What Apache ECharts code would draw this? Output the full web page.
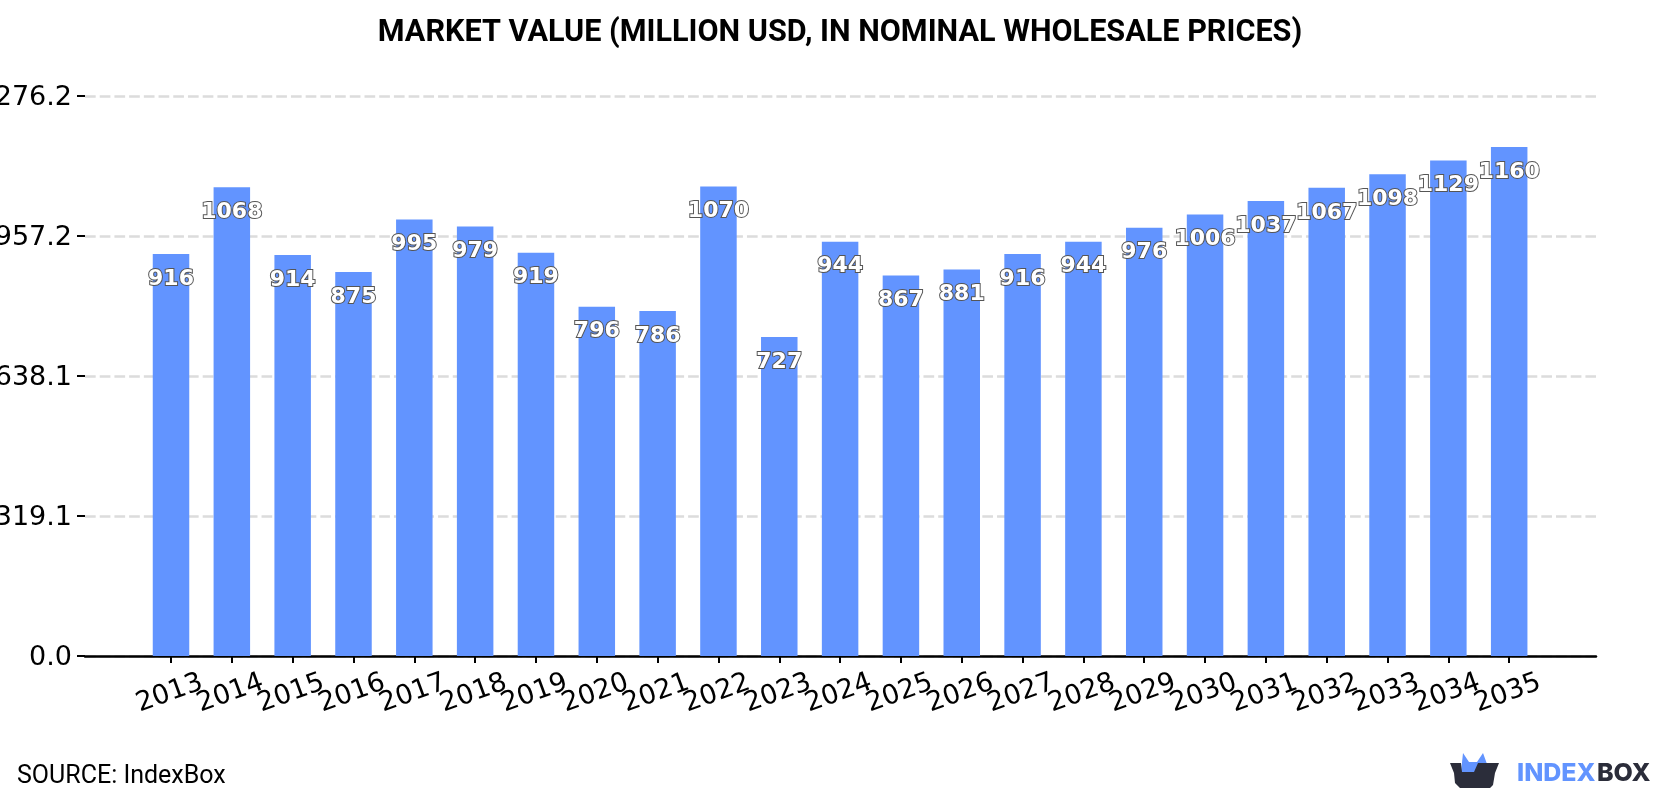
<!DOCTYPE html>
<html>
<head>
<meta charset="utf-8">
<style>html,body{margin:0;padding:0;background:#fff}#chart{width:1680px;height:800px}</style>
<script src="https://cdn.jsdelivr.net/npm/echarts@6/dist/echarts.min.js"></script>
</head>
<body>
<div id="chart"></div>
<script>
// Market value by year, million USD
const years = ['2013','2014','2015','2016','2017','2018','2019','2020','2021','2022','2023','2024','2025','2026','2027','2028','2029','2030','2031','2032','2033','2034','2035'];
const marketValue = [916,1068,914,875,995,979,919,796,786,1070,727,944,867,881,916,944,976,1006,1037,1067,1098,1129,1160];
const yTickLabels = ['0.0','319.1','638.1','957.2','1276.2'];
const yStep = 319.05;
const barColor = '#6294ff';
const darkColor = '#2b2d3a';

const plotTop = 96;
const plotHeight = 560;

const chart = echarts.init(document.getElementById('chart'), null, {renderer: 'canvas'});
chart.setOption({
  animation: false,
  backgroundColor: '#fff',
  title: {
    text: 'MARKET VALUE (MILLION USD, IN NOMINAL WHOLESALE PRICES)',
    left: 'center', top: 13,
    textStyle: {fontFamily: 'Roboto', fontWeight: 'bold', fontSize: 30.6, color: '#000'}
  },
  // Outer grid carries the baseline and the gridlines; inner grid carries the bars,
  // so the baseline runs on past the first and last year.
  grid: [
    {left: 85, right: 84, top: plotTop, height: plotHeight, outerBoundsMode: 'none'},
    {left: 140.6, width: 1399, top: plotTop, height: plotHeight, outerBoundsMode: 'none'}
  ],
  xAxis: [
    {
      gridIndex: 0, type: 'value', min: 0, max: 1,
      splitLine: {show: false}, axisTick: {show: false}, axisLabel: {show: false},
      axisLine: {show: true, onZero: false, lineStyle: {color: '#000', width: 2.5}}
    },
    {
      gridIndex: 1, type: 'category', data: years,
      axisLine: {show: false},
      axisTick: {show: true, alignWithLabel: true, length: 7, lineStyle: {color: '#000', width: 2}},
      axisLabel: {
        interval: 0, rotate: 20, margin: 37, fontSize: 27, padding: [0, 3, 0, 0],
        fontFamily: 'DejaVu Sans', color: '#000', align: 'center', verticalAlign: 'middle',
        showMinLabel: true, showMaxLabel: true, hideOverlap: false
      }
    }
  ],
  yAxis: [
    {
      gridIndex: 0, type: 'value',
      min: 0, max: yStep * 4, interval: yStep,
      axisLine: {show: false},
      axisTick: {show: true, length: 8, lineStyle: {color: '#000', width: 2}},
      axisLabel: {
        margin: 13, fontSize: 27, fontFamily: 'DejaVu Sans', color: '#000',
        verticalAlign: 'top', lineHeight: 4,
        formatter: v => yTickLabels[Math.round(v / yStep)]
      },
      splitLine: {show: true, lineStyle: {color: '#dcdcdc', width: 2.5, type: [10.7, 4.01]}}
    },
    {
      gridIndex: 1, type: 'value', show: false,
      min: 0, max: yStep * 4, interval: yStep, splitLine: {show: false}
    }
  ],
  series: [{
    type: 'bar',
    xAxisIndex: 1, yAxisIndex: 1,
    barWidth: 36.5,
    data: marketValue,
    itemStyle: {color: barColor},
    label: {
      show: true, position: 'insideTop', distance: 14,
      fontFamily: 'DejaVu Sans', fontWeight: 'bold', fontSize: 22,
      color: '#fff', textBorderColor: '#555', textBorderWidth: 2
    }
  }],
  graphic: [
    {type: 'text', left: 17, top: 764, style: {text: 'SOURCE: IndexBox', font: '25px Roboto', fill: '#000'}},
    // Logo: crown behind the box, then the wordmark
    {type: 'polygon', shape: {points: [[1461,772],[1463,753],[1469,762],[1477,762],[1483,753],[1487,764],[1478,772]]}, style: {fill: barColor}},
    {type: 'polygon', shape: {points: [[1450,763],[1461,763],[1462,772],[1474,772],[1478,763],[1499,763],[1495,773],[1493,785],[1490,788],[1460,788],[1455,783],[1454,773]]}, style: {fill: darkColor}},
    {type: 'text', left: 1517, top: 761, style: {text: 'INDEX', font: '800 25px Inter', fill: barColor}},
    {type: 'text', left: 1597, top: 761, style: {text: 'BOX', font: '800 25px Inter', fill: darkColor}}
  ]
});
</script>
</body>
</html>
